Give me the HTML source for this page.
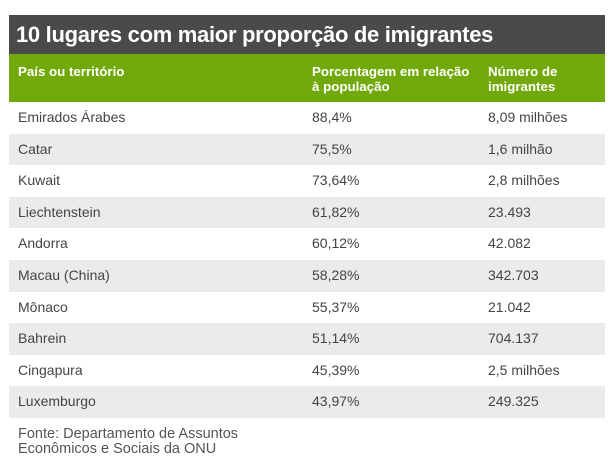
<!DOCTYPE html>
<html><head><meta charset="utf-8"><style>
body{margin:0;width:615px;height:470px;background:#fff;font-family:"Liberation Sans",Arial,sans-serif;position:relative;overflow:hidden}
.t{position:absolute;left:9px;top:15px;width:596px;height:39px;background:#4a4a4a;color:#fff;font-size:22px;font-weight:bold;line-height:39px;padding-left:7px;box-sizing:border-box;letter-spacing:-0.3px}
.h{position:absolute;left:9px;top:54px;width:596px;height:48px;background:#72a90a;color:#fff;font-weight:bold;font-size:13.3px}
.h div{position:absolute;top:10px;line-height:15px}
.r{position:absolute;left:9px;width:596px;height:31.6px;font-size:14px;color:#444;line-height:31.6px}
.r.g{background:#ebebeb}
.r span{position:absolute}
.f{position:absolute;left:18px;top:427px;font-size:14.5px;color:#555;line-height:15px}
</style></head><body>
<div class="t">10 lugares com maior proporção de imigrantes</div>
<div class="h"><div style="left:9px">País ou território</div><div style="left:303px">Porcentagem em relação<br>à população</div><div style="left:479px">Número de<br>imigrantes</div></div>
<div class="r" style="top:102px"><span style="left:9px">Emirados Árabes</span><span style="left:303px">88,4%</span><span style="left:479px">8,09 milhões</span></div>
<div class="r g" style="top:133.6px"><span style="left:9px">Catar</span><span style="left:303px">75,5%</span><span style="left:479px">1,6 milhão</span></div>
<div class="r" style="top:165.2px"><span style="left:9px">Kuwait</span><span style="left:303px">73,64%</span><span style="left:479px">2,8 milhões</span></div>
<div class="r g" style="top:196.8px"><span style="left:9px">Liechtenstein</span><span style="left:303px">61,82%</span><span style="left:479px">23.493</span></div>
<div class="r" style="top:228.4px"><span style="left:9px">Andorra</span><span style="left:303px">60,12%</span><span style="left:479px">42.082</span></div>
<div class="r g" style="top:260px"><span style="left:9px">Macau (China)</span><span style="left:303px">58,28%</span><span style="left:479px">342.703</span></div>
<div class="r" style="top:291.6px"><span style="left:9px">Mônaco</span><span style="left:303px">55,37%</span><span style="left:479px">21.042</span></div>
<div class="r g" style="top:323.2px"><span style="left:9px">Bahrein</span><span style="left:303px">51,14%</span><span style="left:479px">704.137</span></div>
<div class="r" style="top:354.8px"><span style="left:9px">Cingapura</span><span style="left:303px">45,39%</span><span style="left:479px">2,5 milhões</span></div>
<div class="r g" style="top:386.4px"><span style="left:9px">Luxemburgo</span><span style="left:303px">43,97%</span><span style="left:479px">249.325</span></div>
<div class="f">Fonte: Departamento de Assuntos<br>Econômicos e Sociais da ONU</div>
</body></html>
